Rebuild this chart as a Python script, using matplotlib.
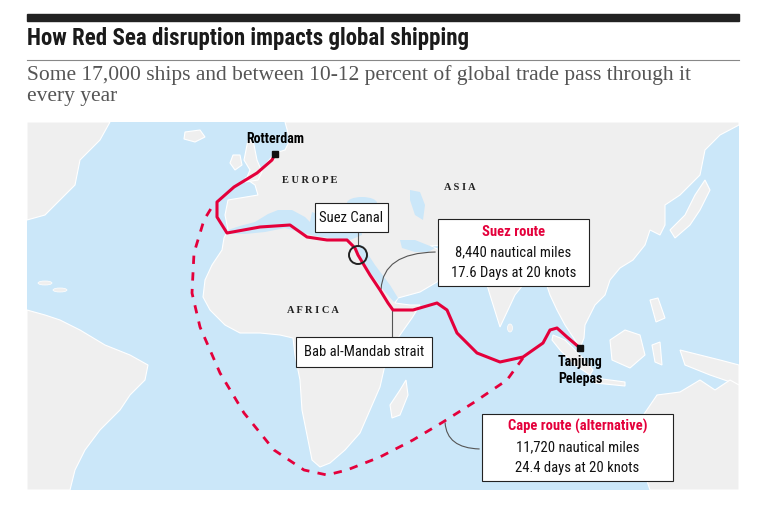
import matplotlib
matplotlib.use("Agg")
import matplotlib.pyplot as plt
from matplotlib import font_manager
from matplotlib.patches import Polygon, Rectangle, Circle, Ellipse, FancyArrowPatch

# ---- data (image pixel coordinates of the reference map) ----
land = {
    "eurasia_africa": [(285, 122), (290, 140), (285, 150), (275, 153), (265, 165), (258, 175), (245, 178),
                       (255, 185), (258, 195), (240, 198), (228, 200), (225, 215), (228, 230), (224, 238),
                       (222, 250), (212, 265), (205, 280), (203, 297), (210, 310), (225, 325), (240, 333),
                       (260, 333), (280, 335), (293, 338), (295, 355), (300, 380), (302, 410), (308, 440),
                       (312, 460), (320, 467), (330, 463), (345, 450), (360, 433), (370, 410), (380, 387),
                       (385, 365), (390, 350), (400, 335), (412, 318), (420, 305), (410, 305), (395, 303),
                       (398, 298), (420, 292), (437, 282), (445, 270), (448, 258), (440, 250), (430, 246),
                       (445, 245), (465, 248), (480, 255), (484, 275), (490, 295), (500, 327), (508, 310),
                       (515, 295), (527, 280), (535, 275), (545, 280), (550, 295), (557, 310), (565, 325),
                       (575, 340), (580, 348), (584, 338), (585, 325), (590, 315), (595, 305), (605, 295),
                       (610, 280), (620, 268), (633, 260), (645, 245), (650, 230), (660, 235), (665, 225),
                       (665, 205), (680, 195), (700, 175), (705, 150), (720, 135), (739, 125), (739, 122)],
    "britain": [(248, 140), (253, 140), (257, 160), (262, 172), (258, 180), (245, 182), (250, 170), (244, 160), (246, 150)],
    "ireland": [(233, 155), (240, 155), (242, 165), (235, 170), (230, 163)],
    "iceland": [(185, 132), (200, 130), (205, 137), (195, 142), (184, 139)],
    "madagascar": [(400, 390), (406, 380), (408, 395), (400, 415), (392, 418), (390, 405)],
    "sumatra": [(553, 335), (565, 340), (580, 355), (593, 370), (590, 375), (575, 365), (560, 350), (552, 340)],
    "java": [(595, 378), (625, 382), (625, 386), (595, 383)],
    "borneo": [(610, 340), (625, 330), (640, 335), (645, 355), (630, 368), (612, 360)],
    "philippines": [(650, 300), (658, 298), (665, 318), (656, 322)],
    "sulawesi": [(652, 345), (660, 342), (662, 365), (655, 362)],
    "new_guinea": [(680, 350), (720, 360), (739, 365), (739, 385), (710, 375), (685, 365)],
    "japan": [(670, 230), (685, 215), (695, 195), (705, 180), (710, 190), (700, 210), (690, 225), (675, 238)],
    "australia": [(640, 420), (657, 395), (680, 392), (700, 380), (715, 390), (730, 380), (739, 385),
                  (739, 490), (650, 490), (640, 460), (638, 440)],
    "north_america": [(27, 122), (110, 122), (100, 140), (80, 160), (75, 185), (60, 200), (45, 215), (27, 220)],
    "south_america": [(27, 310), (45, 315), (60, 320), (80, 330), (105, 345), (130, 355), (148, 365),
                      (145, 380), (130, 395), (120, 410), (100, 430), (85, 450), (75, 470), (70, 490), (27, 490)],
}
water = {
    "mediterranean": [(228, 230), (240, 226), (255, 222), (268, 214), (278, 210), (292, 210),
                      (305, 217), (310, 222), (312, 212), (320, 215), (330, 220), (345, 215), (360, 222),
                      (362, 235), (350, 240), (330, 238), (315, 236), (300, 232), (285, 228), (265, 232),
                      (245, 234), (230, 234)],
    "caspian": [(410, 190), (420, 192), (425, 205), (423, 220), (415, 215), (410, 200)],
    "red_sea": [(357, 245), (362, 245), (375, 265), (390, 285), (398, 298), (394, 302), (385, 292),
                (370, 272), (357, 250)],
    "persian_gulf": [(400, 240), (415, 240), (435, 248), (428, 252), (415, 252), (402, 248)],
}

suez_x = [275, 272, 257, 234, 217, 217, 227, 260, 290, 307, 327, 347, 355, 358, 370, 380, 388, 393,
          413, 437, 447, 457, 477, 500, 523, 543, 550, 557, 567, 580]
suez_y = [154, 160, 173, 187, 202, 217, 233, 227, 225, 237, 240, 240, 248, 255, 275, 290, 303, 310,
          310, 303, 310, 333, 353, 362, 357, 343, 330, 328, 337, 348]
cape_x = [523, 507, 473, 443, 413, 380, 347, 327, 304, 274, 244, 220, 200, 192, 194, 204, 215]
cape_y = [358, 380, 403, 422, 440, 457, 470, 475, 470, 450, 413, 373, 327, 293, 253, 220, 202]

RED = "#e4003b"
OCEAN = "#cbe7f9"
LAND = "#efefef"

installed = {f.name for f in font_manager.fontManager.ttflist}
NARROW = next((f for f in ["Liberation Sans Narrow", "Roboto Condensed", "Open Sans Condensed",
                           "DejaVu Sans Condensed"] if f in installed), "Roboto")
shrink = 1.0 if NARROW != "Roboto" else 0.85

W, H = 768, 511
fig = plt.figure(figsize=(W / 100, H / 100), dpi=100)


def fx(x):
    return x / W


def fy(y):
    return 1 - y / H


# header
fig.patches.append(Rectangle((fx(27), fy(21)), fx(739) - fx(27), fy(14) - fy(21),
                             transform=fig.transFigure, color="#222222"))
fig.add_artist(plt.Line2D([fx(27), fx(739)], [fy(60), fy(60)], color="#888888", lw=0.8))
fig.text(fx(27), fy(38), "How Red Sea disruption impacts global shipping", fontsize=16.5 * shrink,
         fontweight="bold", family=NARROW, va="center", color="#1a1a1a")
fig.text(fx(27), fy(75), "Some 17,000 ships and between 10-12 percent of global trade pass through it",
         fontsize=15.5, family="Liberation Serif", va="center", color="#555555")
fig.text(fx(27), fy(97), "every year", fontsize=15.5, family="Liberation Serif", va="center", color="#555555")

# map
ax = fig.add_axes([fx(27), fy(490), fx(739) - fx(27), fy(122) - fy(490)])
ax.set_xlim(27, 739)
ax.set_ylim(490, 122)
ax.axis("off")
ax.add_patch(Rectangle((27, 122), 712, 368, color=OCEAN, zorder=0))
for pts in land.values():
    ax.add_patch(Polygon(pts, closed=True, fc=LAND, ec="white", lw=0.8, zorder=1))
for pts in water.values():
    ax.add_patch(Polygon(pts, closed=True, fc=OCEAN, ec="none", zorder=2))
ax.add_patch(Ellipse((362, 203), 30, 12, fc=OCEAN, ec="none", zorder=2))
ax.add_patch(Ellipse((510, 328), 5, 8, fc=LAND, ec="white", lw=0.5, zorder=2))
for cx, cy in [(45, 283), (60, 290)]:
    ax.add_patch(Ellipse((cx, cy), 14, 4, fc=LAND, ec="white", lw=0.5, zorder=2))

# routes
ax.plot(cape_x, cape_y, color=RED, lw=2, ls=(0, (3, 3)), zorder=4)
ax.plot(suez_x, suez_y, color=RED, lw=2.2, zorder=5, solid_joinstyle="round")
ax.plot([275, 580], [154, 348], ls="none", marker="s", ms=4, color="#111111", zorder=6)
ax.add_patch(Circle((358, 255), 9, fc="none", ec="#222222", lw=1.4, zorder=6))

# region labels
for txt, x, y in [("E U R O P E", 310, 180), ("A S I A", 460, 187), ("A F R I C A", 313, 310)]:
    ax.text(x, y, txt, fontsize=7.5, fontweight="bold", family="Liberation Serif", ha="center",
            va="center", color="#222222", zorder=6)

lbl = dict(fontsize=10 * shrink, fontweight="bold", family=NARROW, ha="center", va="center", zorder=6)
ax.text(275, 139, "Rotterdam", **lbl)
ax.text(580, 362, "Tanjung", **lbl)
ax.text(580, 379, "Pelepas", **lbl)

# leader lines
ax.plot([358, 358], [232, 246], color="#555555", lw=0.8, zorder=3)
ax.plot([392, 392], [310, 337], color="#555555", lw=0.8, zorder=3)
ax.add_patch(FancyArrowPatch((438, 252), (381, 292), arrowstyle="-", connectionstyle="angle3,angleA=0,angleB=90",
                             color="#555555", lw=0.8, zorder=3))
ax.add_patch(FancyArrowPatch((482, 449), (445, 420), arrowstyle="-", connectionstyle="angle3,angleA=0,angleB=90",
                             color="#555555", lw=0.8, zorder=3))


def box(x0, y0, x1, y1, lines):
    ax.add_patch(Rectangle((x0, y0), x1 - x0, y1 - y0, fc="white", ec="#222222", lw=0.8, zorder=7))
    n = len(lines)
    step = (y1 - y0) / (n + 0.2)
    for i, (t, c) in enumerate(lines):
        ax.text((x0 + x1) / 2, y0 + step * (i + 0.6), t, fontsize=10.5 * shrink, family=NARROW, ha="center",
                va="center", color=c, fontweight="bold" if c == RED else "normal", zorder=8)


box(315, 203, 388, 232, [("Suez Canal", "#111111")])
box(296, 337, 432, 367, [("Bab al-Mandab strait", "#111111")])
box(438, 219, 589, 286, [("Suez route", RED), ("8,440 nautical miles", "#111111"),
                         ("17.6 Days at 20 knots", "#111111")])
box(482, 414, 673, 481, [("Cape route (alternative)", RED), ("11,720 nautical miles", "#111111"),
                         ("24.4 days at 20 knots", "#111111")])

fig.savefig("out.png", dpi=100)
